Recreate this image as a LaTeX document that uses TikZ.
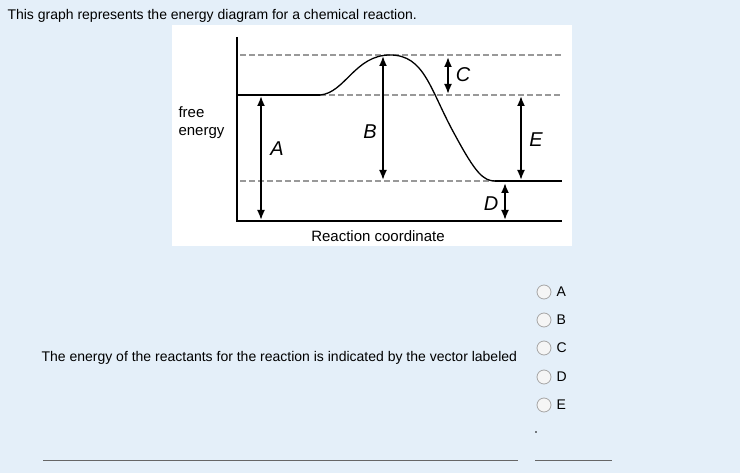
\documentclass[tikz,border=0pt]{standalone}
\usepackage{fontspec}
\setmainfont{Liberation Sans}
\usetikzlibrary{arrows.meta}
\begin{document}
\begin{tikzpicture}[x=1pt,y=-1pt,
  dsh/.style={gray!80,dash pattern=on 6pt off 3pt,line width=1.1pt},
  vec/.style={line width=1.8pt,{Latex[length=10pt,width=8pt]}-{Latex[length=10pt,width=8pt]}},
  lab/.style={font=\fontsize{20}{20}\selectfont\itshape},
  radio/.style={circle,draw=gray!70,fill=gray!8,minimum size=14pt,inner sep=0pt,line width=0.8pt},
  opt/.style={font=\fontsize{14}{14}\selectfont,anchor=west}]
\fill[fill={rgb,255:red,228;green,239;blue,249}] (0,0) rectangle (740,473);
\useasboundingbox (0,0) rectangle (740,473);
\fill[white] (172,25) rectangle (572,246);
\node[anchor=west,font=\fontsize{14}{14}\selectfont] (title) at (4,16) {This graph represents the energy diagram for a chemical reaction.};
% dashed levels
\coordinate (t1) at (240,55); \coordinate (t2) at (562,55);
\coordinate (r1) at (320,95); \coordinate (r2) at (562,95);
\coordinate (p1) at (240,181); \coordinate (p2) at (495,181);
\draw[dsh] (t1) -- (t2);
\draw[dsh] (r1) -- (r2);
\draw[dsh] (p1) -- (p2);
% axes
\coordinate (o) at (237,221); \coordinate (ytop) at (237,37); \coordinate (xend) at (562,221);
\draw[line width=2pt] (ytop) -- (o) -- (xend);
\coordinate (r0) at (237,95);
\draw[line width=1.7pt] (r0) -- (r1);
\coordinate (pk) at (390,55); \coordinate (pe) at (562,181);
\draw[line width=1.3pt] (r1) .. controls (345,93) and (355,55) .. (pk)
  .. controls (425,55) and (430,90) .. (455,135) .. controls (475,172) and (483,181) .. (p2);
\draw[line width=2.8pt] (p2) -- (pe);
% vectors
\coordinate (a1) at (261,96); \coordinate (a2) at (261,220);
\coordinate (b1) at (383,56); \coordinate (b2) at (383,180);
\coordinate (c1) at (448,57); \coordinate (c2) at (448,94);
\coordinate (d1) at (505,183); \coordinate (d2) at (505,220);
\coordinate (e1) at (521,96); \coordinate (e2) at (521,180);
\draw[vec] (a1) -- (a2); \draw[vec] (b1) -- (b2); \draw[vec] (c1) -- (c2);
\draw[vec] (d1) -- (d2); \draw[vec] (e1) -- (e2);
\node[lab] (la) at (277,149) {A};
\node[lab] (lb) at (370,132) {B};
\node[lab] (lc) at (463,75) {C};
\node[lab] (ld) at (491,204) {D};
\node[lab] (le) at (536,140) {E};
\node[anchor=west,font=\fontsize{15}{15}\selectfont] (fe1) at (175,112) {free};
\node[anchor=west,font=\fontsize{15}{15}\selectfont] (fe2) at (175,133) {energy};
\node[font=\fontsize{15}{15}\selectfont] (rc) at (378,236) {Reaction coordinate};
% question
\node[anchor=west,font=\fontsize{14}{14}\selectfont] (q) at (38,358) {The energy of the reactants for the reaction is indicated by the vector labeled};
\foreach \n/\yy in {A/292,B/320,C/348,D/377,E/405}{
  \node[radio] (r\n) at (544,\yy) {};
  \node[opt] (o\n) at (553,\yy) {\n};
}
\fill (536,432) circle (0.9pt);
\coordinate (l1) at (43,460); \coordinate (l2) at (518,460);
\coordinate (l3) at (535,460); \coordinate (l4) at (612,460);
\draw[gray!80!black,line width=0.8pt] (l1) -- (l2);
\draw[gray!80!black,line width=0.8pt] (l3) -- (l4);
\end{tikzpicture}
\end{document}
